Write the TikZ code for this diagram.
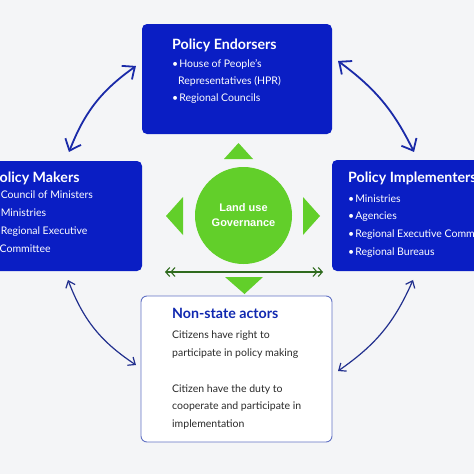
\documentclass[tikz,border=0pt]{standalone}
\usepackage{fontspec}
\setmainfont{Lato}
\newfontfamily\arialf{Liberation Sans}
\usetikzlibrary{arrows.meta,bending}
\definecolor{bgc}{HTML}{F4F5F7}
\definecolor{boxblue}{HTML}{0A1EC4}
\definecolor{arrblue}{HTML}{1A2AA8}
\definecolor{navy}{HTML}{22308E}
\definecolor{grn}{HTML}{62CF2A}
\definecolor{dgrn}{HTML}{2F6B1E}
\definecolor{nsborder}{HTML}{6272C4}
\definecolor{nstitle}{HTML}{1028B0}
\definecolor{txtgray}{HTML}{2A2A2A}
\tikzset{
  bluebox/.style={draw=none, fill=boxblue, rounded corners=5pt, inner sep=0pt},
  nsbox/.style={draw=nsborder, line width=0.9pt, fill=white, rounded corners=6pt, inner sep=0pt},
  ttl/.style={anchor=base west, inner sep=0pt, font=\fontsize{14.2}{16}\selectfont\bfseries, text=white},
  itm/.style={anchor=base west, inner sep=0pt, font=\fontsize{10.5}{12}\selectfont, text=white},
  nstxt/.style={itm, text=txtgray},
  tri/.style={fill=grn},
  bigarr/.style={draw=arrblue, line width=1.8pt, {Straight Barb[length=10pt,width=17pt,bend]}-{Straight Barb[length=10pt,width=17pt,bend]}},
  smallarr/.style={draw=navy, line width=1.2pt, {Straight Barb[length=6pt,width=10pt,bend]}-{Straight Barb[length=6pt,width=10pt,bend]}},
  dblarr/.style={draw=dgrn, line width=1.1pt, {Straight Barb[length=4pt,width=9pt]Straight Barb[length=4pt,width=9pt]}-{Straight Barb[length=4pt,width=9pt]Straight Barb[length=4pt,width=9pt]}}
}
\newcommand{\bul}{\textbullet\hspace{1pt}}
\begin{document}
\begin{tikzpicture}[x=1pt,y=-1pt]
\fill[bgc] (0,0) rectangle (474,474);
\useasboundingbox (0,0) rectangle (474,474);
\clip (0,0) rectangle (474,474);
% boxes
\node[bluebox, minimum width=190pt, minimum height=110pt] (pe) at (237,79) {};
\node[bluebox, minimum width=190pt, minimum height=110pt] (pm) at (47,216) {};
\node[bluebox, minimum width=190pt, minimum height=111pt] (pi) at (427,215.5) {};
\node[nsbox, minimum width=191pt, minimum height=146pt] (ns) at (236.5,369) {};
% top box text
\node[ttl] (pet) at (172,49) {Policy Endorsers};
\node[itm] (pe1) at (172,67) {\bul House of People’s};
\node[itm] (pe2) at (178,84) {Representatives (HPR)};
\node[itm] (pe3) at (172,101) {\bul Regional Councils};
% left box text
\node[ttl] (pmt) at (-9,182) {Policy Makers};
\node[itm] (pm1) at (-6.5,198) {\bul Council of Ministers};
\node[itm] (pm2) at (-6.5,216) {\bul Ministries};
\node[itm] (pm3) at (-6.5,234) {\bul Regional Executive};
\node[itm] (pm4) at (-0.5,252) {Committee};
% right box text
\node[ttl] (pit) at (348,182) {Policy Implementers};
\node[itm] (pi1) at (348,202) {\bul Ministries};
\node[itm] (pi2) at (348,219) {\bul Agencies};
\node[itm] (pi3) at (348,237) {\bul Regional Executive Committee};
\node[itm] (pi4) at (348,255) {\bul Regional Bureaus};
% bottom box text
\node[ttl, text=nstitle] (nst) at (172,318) {Non-state actors};
\node[nstxt] (ns1) at (172,338) {Citizens have right to};
\node[nstxt] (ns2) at (172,356) {participate in policy making};
\node[nstxt] (ns3) at (172,392) {Citizen have the duty to};
\node[nstxt] (ns4) at (172,409) {cooperate and participate in};
\node[nstxt] (ns5) at (172,427) {implementation};
% green centre
\node[circle, fill=grn, minimum size=97pt, inner sep=0pt, text=white, align=center,
      font=\arialf\bfseries\fontsize{11}{15}\selectfont] (gov) at (243.5,215.5) {Land use\\Governance};
\fill[tri] (224,159) -- (253,159) -- (238.5,143) -- cycle;
\fill[tri] (225,277) -- (263,277) -- (244.5,294) -- cycle;
\fill[tri] (183,197) -- (183,235) -- (166,216) -- cycle;
\fill[tri] (303,197) -- (303,235) -- (320,216) -- cycle;
\coordinate (da1) at (165,272);
\coordinate (da2) at (323,272);
\draw[dblarr] (da1) -- (da2);
% curved connectors
\coordinate (tl1) at (69,152);
\coordinate (tl2) at (136,66);
\coordinate (tr1) at (338,61);
\coordinate (tr2) at (414,152);
\coordinate (bl1) at (68,280);
\coordinate (bl2) at (136,365);
\coordinate (br1) at (413,280);
\coordinate (br2) at (338,371);
\draw[bigarr] (tl1) to[bend left=17] (tl2);
\draw[bigarr] (tr1) to[bend left=14] (tr2);
\draw[smallarr] (bl1) to[bend right=18] (bl2);
\draw[smallarr] (br1) to[bend left=16] (br2);
\end{tikzpicture}
\end{document}
